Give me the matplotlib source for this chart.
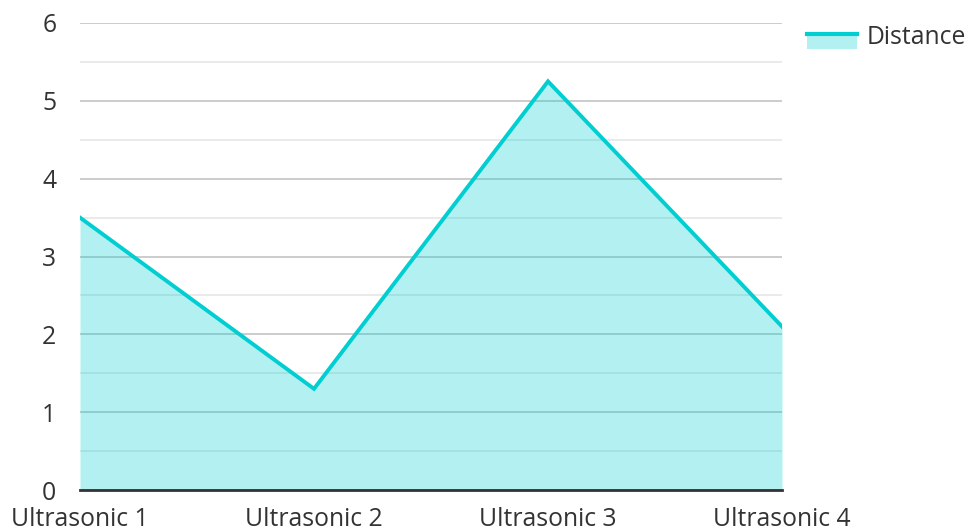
import matplotlib
matplotlib.use('Agg')
import matplotlib.pyplot as plt
from matplotlib.legend_handler import HandlerBase
from matplotlib.patches import Rectangle
from matplotlib.lines import Line2D

plt.rcParams['font.family'] = ['Open Sans', 'DejaVu Sans']

sensors = ['Ultrasonic 1', 'Ultrasonic 2', 'Ultrasonic 3', 'Ultrasonic 4']
distance = [3.5, 1.3, 5.25, 2.1]

LINE_C = '#00CED1'
FILL_ALPHA = 0.3
TEXT_C = '#333333'


class AreaHandler(HandlerBase):
    # line on top, translucent band below, like the area legend symbol
    def create_artists(self, legend, orig_handle, xdescent, ydescent,
                       width, height, fontsize, trans):
        top = height * 0.55
        bot = -height * 0.3
        rect = Rectangle((-xdescent, bot), width, top - bot,
                         facecolor=LINE_C, alpha=FILL_ALPHA, edgecolor='none', transform=trans)
        line = Line2D([-xdescent, -xdescent + width], [top, top],
                      color=LINE_C, lw=3, transform=trans)
        return [rect, line]


fig = plt.figure(figsize=(9.69, 5.31), dpi=100)
ax = fig.add_axes([80 / 969, 1 - 490 / 531, 702 / 969, 467 / 531])

x = list(range(len(sensors)))
ax.fill_between(x, distance, 0, color=LINE_C, alpha=FILL_ALPHA, lw=0, zorder=2)
ax.plot(x, distance, color=LINE_C, lw=2.8, zorder=4, solid_joinstyle='miter')

ax.set_xlim(0, len(sensors) - 1)
ax.set_ylim(0, 6)
ax.set_yticks(range(0, 7))
ax.set_yticks([i + 0.5 for i in range(6)], minor=True)
ax.set_xticks(x)
ax.set_xticklabels(sensors)

ax.set_axisbelow(True)
ax.grid(True, which='major', axis='y', color='#c8c8c8', lw=1.3)
ax.grid(True, which='minor', axis='y', color='#e8e8e8', lw=1.3)

for s in ['top', 'right', 'left']:
    ax.spines[s].set_visible(False)
ax.spines['bottom'].set_color(TEXT_C)
ax.spines['bottom'].set_linewidth(2)
ax.spines['bottom'].set_zorder(5)

ax.tick_params(axis='both', which='both', length=0, labelsize=17.8, colors=TEXT_C)
ax.tick_params(axis='y', pad=17)
ax.tick_params(axis='x', pad=12)

proxy = Rectangle((0, 0), 1, 1)
fig.legend([proxy], ['Distance'], handler_map={Rectangle: AreaHandler()},
           loc='center left', bbox_to_anchor=(807 / 969, 1 - 37 / 531),
           frameon=False, fontsize=17.8, handlelength=2.03, handletextpad=0.4,
           borderpad=0, borderaxespad=0, labelcolor=TEXT_C)

fig.savefig('out.png', dpi=100)
